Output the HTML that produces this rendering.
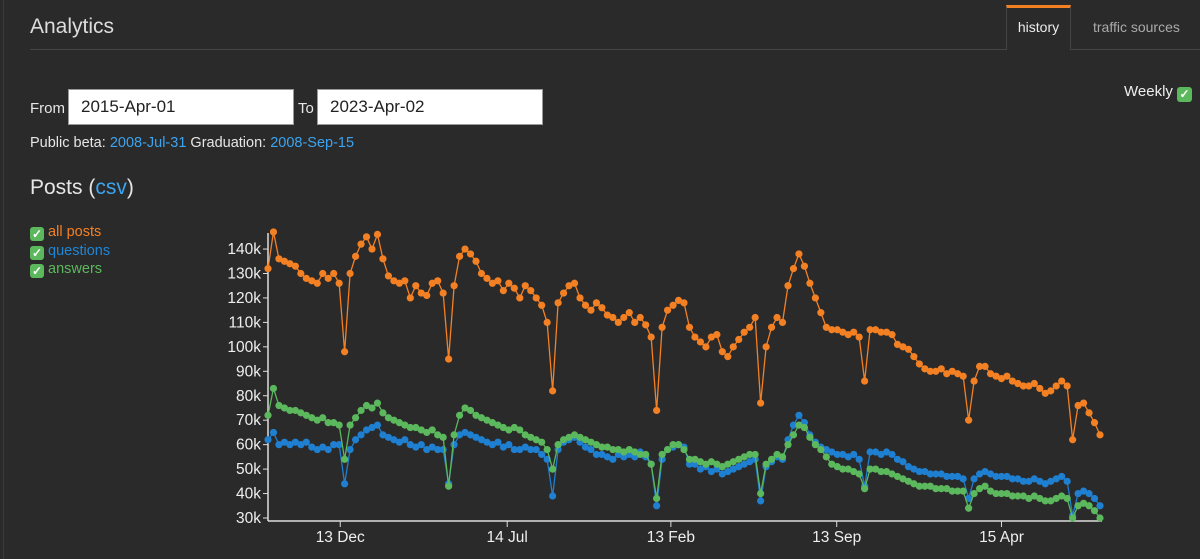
<!DOCTYPE html>
<html><head><meta charset="utf-8">
<style>
body{margin:0;width:1200px;height:559px;background:#2a2a2a;font-family:"Liberation Sans",sans-serif;color:#e6e6e6;overflow:hidden;position:relative}
.abs{position:absolute}
a{color:#3ca4f0;text-decoration:none}
input{position:absolute;height:36px;border:1px solid #999;background:#fff;color:#222;font-size:17px;font-family:"Liberation Sans",sans-serif;padding:0 12px;box-sizing:border-box}
.cb{display:inline-block;width:15px;height:15px;background:#5cb85c;border-radius:3px;color:#fff;font-size:12px;font-weight:bold;text-align:center;line-height:15px;vertical-align:-2px}
</style></head><body>
<div class="abs" style="left:3px;top:0;width:1px;height:559px;background:#3a3a3a"></div>
<div class="abs" style="left:30px;top:15px;font-size:21px;color:#ddd">Analytics</div>
<div class="abs" style="left:30px;top:49px;width:977px;height:1px;background:#444"></div>
<div class="abs" style="left:1006px;top:5px;width:65px;height:45px;border:1px solid #444;border-bottom:none;border-top:3px solid #f48024;box-sizing:border-box;font-size:14px;color:#eee;text-align:center;line-height:38px">history</div>
<div class="abs" style="left:1071px;top:49px;width:129px;height:1px;background:#444"></div>
<div class="abs" style="left:1093px;top:19px;font-size:14px;color:#aaa">traffic sources</div>
<div class="abs" style="left:1124px;top:83px;font-size:15px;color:#eee">Weekly <span class="cb">✓</span></div>
<div class="abs" style="left:30px;top:100px;font-size:15px">From</div>
<input style="left:68px;top:89px;width:226px" value="2015-Apr-01">
<div class="abs" style="left:298px;top:100px;font-size:15px">To</div>
<input style="left:317px;top:89px;width:226px" value="2023-Apr-02">
<div class="abs" style="left:30px;top:135px;font-size:14.5px">Public beta: <a href="#">2008-Jul-31</a> Graduation: <a href="#">2008-Sep-15</a></div>
<div class="abs" style="left:30px;top:176px;font-size:21px">Posts (<a href="#">csv</a>)</div>
<div class="abs" style="left:30px;top:223px;font-size:14.5px;line-height:18.5px">
<div><span class="cb" style="width:14px;height:14px;line-height:14px">✓</span> <span style="color:#f48024">all posts</span></div>
<div><span class="cb" style="width:14px;height:14px;line-height:14px">✓</span> <span style="color:#1f86d6">questions</span></div>
<div><span class="cb" style="width:14px;height:14px;line-height:14px">✓</span> <span style="color:#5cb85c">answers</span></div>
</div>
<svg id="chart" class="abs" style="left:0;top:0" width="1200" height="559"></svg>
<script>
const allPosts=[132,147,136,135,134,133,130,128,127,126,130,128,130,126,98,130,137,142,145,140,146,136,129,127,126,127,120,125,122,121,126,127,122,95,125,137,140,138,135,130,128,126,127,123,126,124,120,125,123,120,117,110,82,118,122,125,126,120,117,115,118,116,113,112,110,112,114,110,112,109,104,74,108,115,117,119,118,108,104,102,100,104,105,98,96,100,103,106,108,112,77,100,108,112,110,125,132,138,133,126,120,114,108,107,107,106,105,106,104,86,107,107,106,106,105,101,100,99,96,93,91,90,90,91,89,90,89,88,70,86,92,92,89,88,87,88,86,85,84,84,85,83,81,82,84,86,84,62,76,77,73,69,64];
const questions=[62,65,60,61,60,61,60,61,59,58,59,58,60,60,44,58,62,64,66,67,68,64,63,62,61,62,60,59,60,58,59,58,58,44,60,64,65,64,63,62,61,60,61,59,60,58,58,59,58,58,56,54,39,58,61,62,63,61,59,58,56,56,55,54,56,55,56,55,57,55,52,35,54,58,59,60,59,52,52,50,51,49,50,48,49,50,51,52,53,54,37,51,53,55,54,62,68,72,69,64,61,59,58,57,56,56,55,56,54,43,57,57,56,57,56,54,53,51,50,49,49,48,48,48,47,47,47,46,38,46,48,49,48,47,47,47,46,46,45,45,46,45,44,45,46,47,45,31,40,41,40,38,35];
const answers=[72,83,76,75,74,74,73,72,71,70,71,69,69,68,54,68,71,74,76,75,77,73,71,70,69,68,67,67,66,65,66,64,63,43,64,72,75,74,72,71,70,69,68,67,66,67,66,64,63,62,61,58,50,60,62,63,64,63,62,61,60,59,59,58,58,57,58,57,56,56,52,38,56,58,60,60,58,54,54,53,52,53,52,51,52,53,54,55,56,56,40,52,54,56,55,60,64,68,67,63,60,58,55,52,51,50,50,49,48,42,50,50,49,49,48,47,46,45,44,43,43,43,42,42,42,41,41,41,34,40,42,43,41,40,40,40,39,39,39,38,39,38,37,37,38,39,38,30,35,36,35,33,30];
const yTicks=[30,40,50,60,70,80,90,100,110,120,130,140];
const xTickLabels=["13 Dec","14 Jul","13 Feb","13 Sep","15 Apr"];
const xTickWeeks=[13.2,43.7,73.6,103.9,134.0];

const NS="http://www.w3.org/2000/svg";
const svg=document.getElementById('chart');
const X0=268,X1=1100,Y0=518,PX_PER_10K=24.45;
const n=allPosts.length;
function xs(i){return X0+(X1-X0)*i/(n-1);}
function ys(v){return Y0-(v-30)*PX_PER_10K/10;}
function mk(t,a){const e=document.createElementNS(NS,t);for(const k in a)e.setAttribute(k,a[k]);svg.appendChild(e);return e;}
let e=mk('line',{x1:X0,y1:233,x2:X0,y2:521,stroke:'#ddd','stroke-width':1.5});


e=mk('line',{x1:X0,y1:521,x2:X1+2,y2:521,stroke:'#ddd','stroke-width':1.5});


yTicks.forEach(v=>{
  const t=mk('line',{x1:X0-5,y1:ys(v),x2:X0,y2:ys(v),stroke:'#ddd'});
  
  
  const l=mk('text',{x:X0-7,y:ys(v)+5,'text-anchor':'end',fill:'#eee','font-size':15.5,'font-family':'Liberation Sans, sans-serif'});
  l.textContent=v+'k';
  
  
});
xTickWeeks.forEach((w,k)=>{
  const x=xs(w);
  const t=mk('line',{x1:x,y1:521,x2:x,y2:527,stroke:'#ddd'});
  
  
  const l=mk('text',{x:x,y:542,'text-anchor':'middle',fill:'#eee','font-size':15.5,'font-family':'Liberation Sans, sans-serif'});
  l.textContent=xTickLabels[k];
  
  
});
function series(arr,color,name){
  const p=mk('polyline',{points:arr.map((v,i)=>xs(i)+','+ys(v)).join(' '),fill:'none',stroke:color,'stroke-width':1.3});
  
  
  arr.forEach((v,i)=>{
    const c=mk('circle',{cx:xs(i),cy:ys(v),r:3.6,fill:color});
    
    
  });
}
series(allPosts,'#f48024','all-posts');
series(questions,'#1f7fd0','questions');
series(answers,'#5cb85c','answers');
</script>
</body></html>
